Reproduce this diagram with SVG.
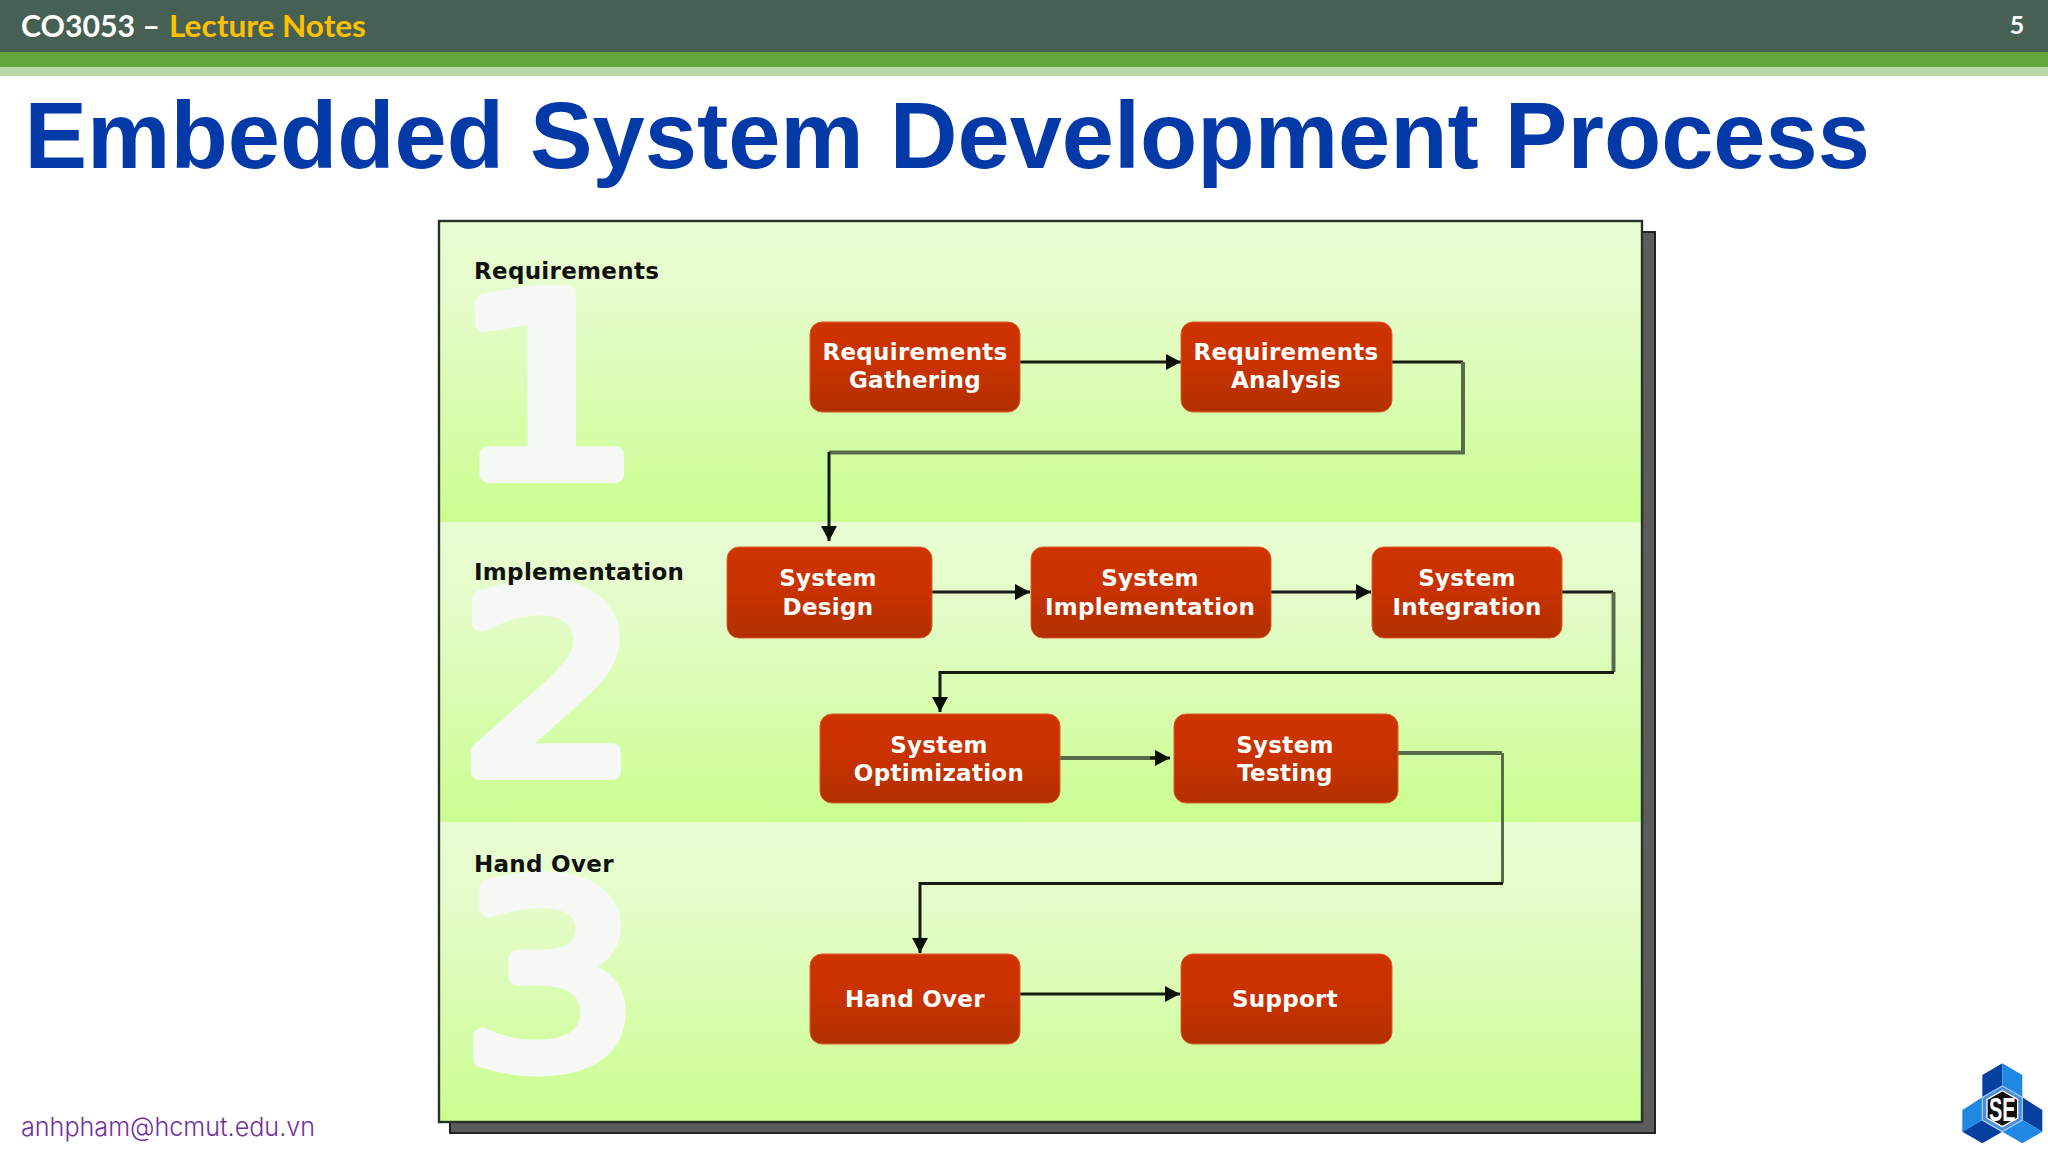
<svg xmlns="http://www.w3.org/2000/svg" width="2048" height="1152" viewBox="0 0 2048 1152">
<style>
.node{fill:url(#nodeGrad);stroke:#d9602a;stroke-width:1}
.nt{font-family:"DejaVu Sans",Verdana,sans-serif;font-weight:700;font-size:23px;letter-spacing:.3px;fill:#fff;text-anchor:middle}
.lab{font-family:"DejaVu Sans",Verdana,sans-serif;font-weight:700;font-size:23px;letter-spacing:.3px;fill:#111}
.dig{font-family:"DejaVu Sans",sans-serif;font-size:250px;fill:#f6f8f5;stroke:#f6f8f5;stroke-width:16;stroke-linejoin:round}
.e{fill:none;stroke:#141c10;stroke-width:3}
.e2{fill:none;stroke:#586c4c;stroke-width:4}
.band{fill:url(#bandGrad)}
.hd{font-family:Lato,sans-serif;font-weight:700;font-size:31px}
</style>
<defs>
<linearGradient id="nodeGrad" x1="0" y1="0" x2="0" y2="1"><stop offset="0" stop-color="#cf3300"/><stop offset="0.45" stop-color="#c93200"/><stop offset="1" stop-color="#b23000"/></linearGradient>
<linearGradient id="bandGrad" x1="0" y1="0" x2="0" y2="1"><stop offset="0" stop-color="#e9fdd3"/><stop offset="0.3" stop-color="#e4fcc8"/><stop offset="1" stop-color="#cbfe90"/></linearGradient>
<marker id="arr" markerUnits="userSpaceOnUse" markerWidth="16" markerHeight="18" refX="15" refY="9" orient="auto"><path d="M0 1L15 9L0 17z" fill="#0a0f08"/></marker>
</defs>
<rect width="2048" height="1152" fill="#fff"/>
<g id="header">
<rect width="2048" height="52" fill="#476054"/>
<rect y="52" width="2048" height="15" fill="#63a537"/>
<rect y="67" width="2048" height="9" fill="#b6d6a3"/>
<text class="hd" x="21" y="37" fill="#fff" textLength="139" lengthAdjust="spacingAndGlyphs">CO3053 –</text>
<text class="hd" x="169" y="37" fill="#ffc000" textLength="197" lengthAdjust="spacingAndGlyphs">Lecture Notes</text>
<text x="2017" y="34" font-family="Lato,sans-serif" font-weight="700" font-size="25" fill="#fff" text-anchor="middle">5</text>
</g>
<text id="title" x="24.500" y="168" font-family="Liberation Sans,Arial,sans-serif" font-weight="700" font-size="93.800" fill="#0439a8">Embedded System Development Process</text>
<g id="panel">
<rect x="450" y="232" width="1205" height="901" fill="#5c5c5c" stroke="#222" stroke-width="2"/>
<rect x="439" y="221" width="1203" height="301" class="band"/>
<rect x="439" y="522" width="1203" height="300" class="band"/>
<rect x="439" y="822" width="1203" height="300" class="band"/>
<rect x="439" y="221" width="1203" height="901" fill="none" stroke="#2a3226" stroke-width="2.400"/>
<text class="dig" transform="translate(452 475) scale(1.195 1)">1</text>
<text class="dig" transform="translate(459 772) scale(1.14 1)">2</text>
<text class="dig" transform="translate(461 1065) scale(1.12 1)">3</text>
<text class="lab" x="474" y="279">Requirements</text>
<text class="lab" x="474" y="580">Implementation</text>
<text class="lab" x="474" y="872">Hand Over</text>
</g>
<g id="connectors">
<path class="e" d="M1020 362H1181" marker-end="url(#arr)"/>
<g id="ra-sd"><path class="e" d="M1392 362H1463"/><path class="e2" d="M1463 362V452.500H829"/><path class="e" d="M829 452V541" marker-end="url(#arr)"/></g>
<path class="e" d="M932 592H1030" marker-end="url(#arr)"/>
<path class="e" d="M1271 592H1371" marker-end="url(#arr)"/>
<g id="si-so"><path class="e" d="M1562 592H1613"/><path class="e2" d="M1613.500 592V672"/><path class="e" d="M1614 672.500H940V712" marker-end="url(#arr)"/></g>
<g id="so-st"><path class="e2" d="M1060 758H1155"/><path class="e" d="M1150 758H1170" marker-end="url(#arr)"/></g>
<g id="st-ho"><path class="e2" d="M1398 753H1502"/><path class="e2" d="M1502.500 753V883" style="stroke-width:3"/><path class="e" d="M1503 883.500H920V953" marker-end="url(#arr)"/></g>
<path class="e" d="M1020 994H1180" marker-end="url(#arr)"/>
</g>
<g id="n-req-gathering"><rect class="node" x="810" y="322" width="210" height="90" rx="12"/><text class="nt" x="915" y="360">Requirements</text><text class="nt" x="915" y="388">Gathering</text></g>
<g id="n-req-analysis"><rect class="node" x="1181" y="322" width="211" height="90" rx="12"/><text class="nt" x="1286" y="360">Requirements</text><text class="nt" x="1286" y="388">Analysis</text></g>
<g id="n-sys-design"><rect class="node" x="727" y="547" width="205" height="91" rx="12"/><text class="nt" x="828" y="586">System</text><text class="nt" x="828" y="615">Design</text></g>
<g id="n-sys-impl"><rect class="node" x="1031" y="547" width="240" height="91" rx="12"/><text class="nt" x="1150" y="586">System</text><text class="nt" x="1150" y="615">Implementation</text></g>
<g id="n-sys-integ"><rect class="node" x="1372" y="547" width="190" height="91" rx="12"/><text class="nt" x="1467" y="586">System</text><text class="nt" x="1467" y="615">Integration</text></g>
<g id="n-sys-opt"><rect class="node" x="820" y="714" width="240" height="89" rx="12"/><text class="nt" x="939" y="753">System</text><text class="nt" x="939" y="781">Optimization</text></g>
<g id="n-sys-test"><rect class="node" x="1174" y="714" width="224" height="89" rx="12"/><text class="nt" x="1285" y="753">System</text><text class="nt" x="1285" y="781">Testing</text></g>
<g id="n-hand-over"><rect class="node" x="810" y="954" width="210" height="90" rx="12"/><text class="nt" x="915" y="1007">Hand Over</text></g>
<g id="n-support"><rect class="node" x="1181" y="954" width="211" height="90" rx="12"/><text class="nt" x="1285" y="1007">Support</text></g>
<text id="footer" x="21" y="1136" font-family="Inter,sans-serif" font-weight="300" font-size="26" fill="#7030a0" textLength="294" lengthAdjust="spacingAndGlyphs">anhpham@hcmut.edu.vn</text>
<g id="logo" transform="translate(1955 1060) scale(0.3333)">
<polygon points="142,10 82,45 82,112 142,78" fill="#06409f"/>
<polygon points="142,10 202,45 202,112 142,78" fill="#1f88e2"/>
<polygon points="82,112 22,150 22,215 82,180" fill="#1f88e2"/>
<polygon points="22,215 82,250 142,215 82,180" fill="#06409f"/>
<polygon points="202,112 262,150 262,215 202,180" fill="#06409f"/>
<polygon points="262,215 202,250 142,215 202,180" fill="#1f88e2"/>
<polygon points="142,78 202,112 202,180 142,215 82,180 82,112" fill="#4a8cd8" stroke="#9cc8f0" stroke-width="4"/>
<polygon points="142,92 188,118 188,174 142,200 96,174 96,118" fill="#111" stroke="#fff" stroke-width="4"/>
<text x="102" y="184" font-family="Liberation Sans,sans-serif" font-weight="700" font-size="100" fill="#fff" textLength="80" lengthAdjust="spacingAndGlyphs">SE</text>
</g>
</svg>
